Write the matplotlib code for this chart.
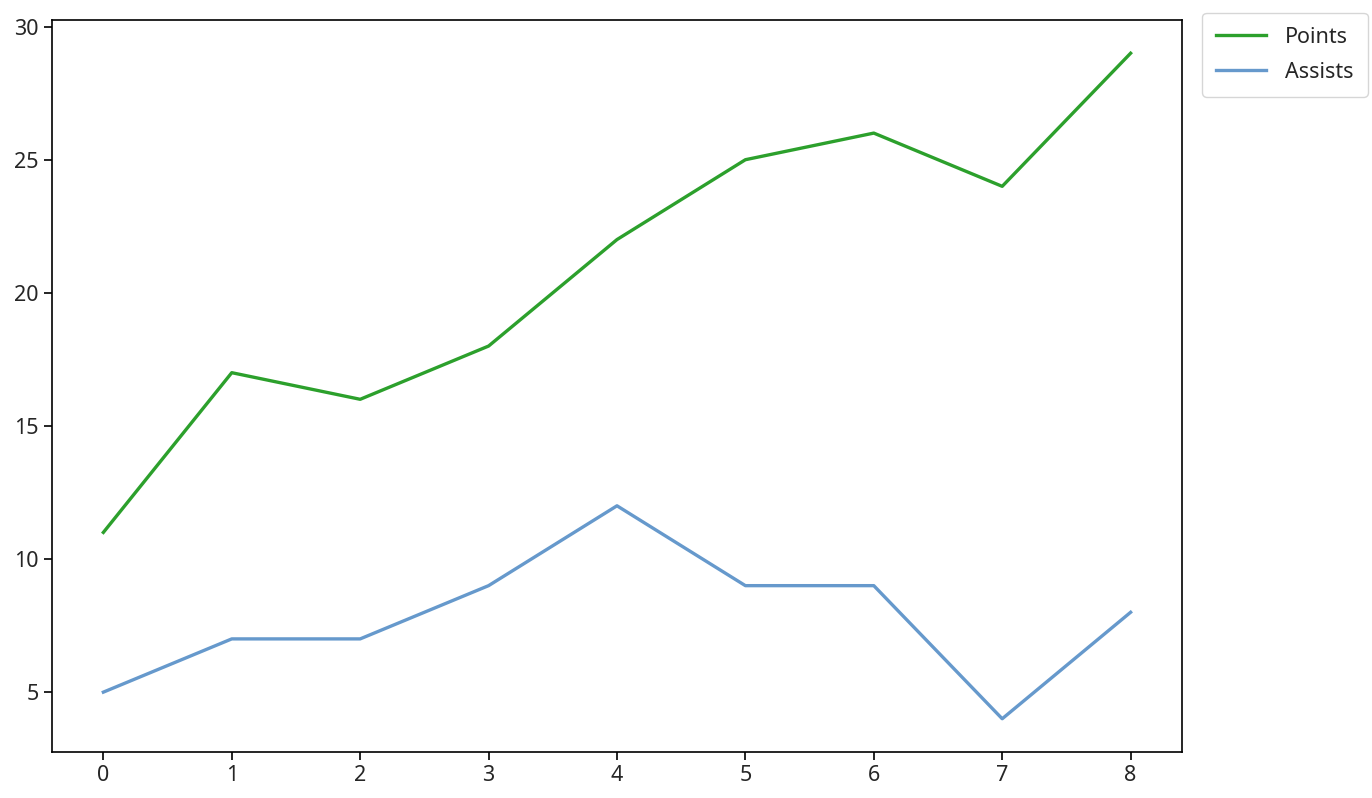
import matplotlib
matplotlib.use("Agg")
import matplotlib.pyplot as plt

x = [0, 1, 2, 3, 4, 5, 6, 7, 8]
points = [11, 17, 16, 18, 22, 25, 26, 24, 29]
assists = [5, 7, 7, 9, 12, 9, 9, 4, 8]

plt.rcParams['font.family'] = ['Noto Sans', 'DejaVu Sans']
plt.rcParams['text.color'] = '#262626'
plt.rcParams['xtick.labelcolor'] = '#262626'
plt.rcParams['ytick.labelcolor'] = '#262626'
fig = plt.figure(figsize=(13.72, 7.98), dpi=100)
ax = fig.add_axes([0.0379, 0.0576, 0.8236, 0.9174])
ax.plot(x, points, color='#2ca02c', linewidth=2.4, label='Points')
ax.plot(x, assists, color='#6699cc', linewidth=2.4, label='Assists')
ax.set_yticks([5, 10, 15, 20, 25, 30])
ax.tick_params(labelsize=15.5, length=6, width=1.2)
for s in ax.spines.values():
    s.set_linewidth(1.2)
ax.legend(loc='upper left', bbox_to_anchor=(1.018, 1.01), fontsize=15.5,
          borderaxespad=0.0, handlelength=2.3, borderpad=0.65,
          labelspacing=0.65, handletextpad=0.9)
fig.savefig('out.png', dpi=100)
